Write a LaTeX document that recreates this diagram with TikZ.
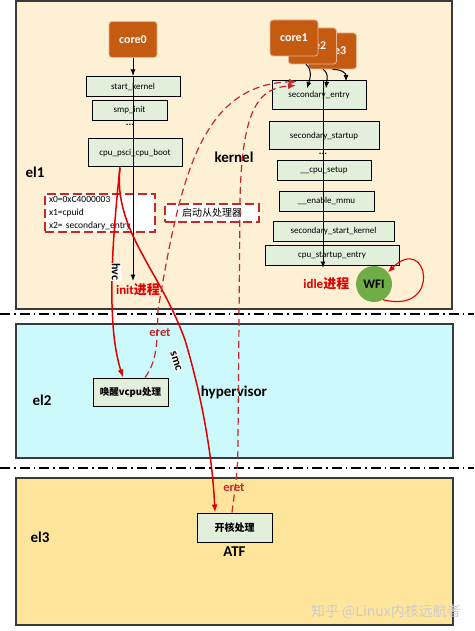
\documentclass[tikz,border=0pt]{standalone}
\usepackage{fontspec}
\setmainfont{Carlito}
\newfontfamily\cjk{Noto Sans CJK SC}
\usepackage{tikz}
\usetikzlibrary{positioning}
\usetikzlibrary{arrows.meta}
\definecolor{elone}{HTML}{FDF0D4}
\definecolor{eltwo}{HTML}{CCFAFC}
\definecolor{elthree}{HTML}{FFE59C}
\definecolor{funcfill}{HTML}{E2EFDA}
\definecolor{coreorange}{HTML}{C55A11}
\definecolor{wfigreen}{HTML}{70AD47}
\definecolor{callred}{HTML}{E00000}
\definecolor{eretred}{HTML}{C62828}
\definecolor{frame}{HTML}{3A3A3A}
\tikzset{every picture/.style={x=1pt,y=-1pt},
  level/.style={draw=frame,line width=1.4pt},
  eldiv/.style={line width=1.2pt,dash pattern=on 10pt off 4pt on 1.5pt off 4pt},
  func/.style={draw,line width=1pt,fill=funcfill,minimum height=20pt,inner sep=0pt,font=\fontsize{9}{11}\selectfont},
  core/.style={fill=coreorange,draw=white!55!coreorange,line width=0.8pt,rounded corners=3pt,minimum width=48pt,minimum height=36pt,text=white,font=\bfseries\fontsize{12}{14}\selectfont},
  tag/.style={font=\bfseries\fontsize{15}{17}\selectfont},
  redtag/.style={text=callred,font=\bfseries\fontsize{13}{15}\selectfont},
  regbox/.style={draw=eretred,line width=1.3pt,dash pattern=on 9pt off 4pt,fill=white,inner sep=0pt},
  flow/.style={line width=1pt,-{Latex[length=6.5pt,width=5pt]}},
  call/.style={callred,line width=1.5pt,-{Latex[length=8pt,width=6pt]}},
  ret/.style={eretred,line width=1.2pt,dash pattern=on 7pt off 4pt,-{Latex[length=8pt,width=6pt]}}}

\begin{document}
\begin{tikzpicture}
\useasboundingbox (0,0) rectangle (474,631);
% exception levels
\draw[level,fill=elone] (16,1) rectangle (452,309);
\draw[level,fill=eltwo] (16,324) rectangle (453,458);
\draw[level,fill=elthree] (16,478) rectangle (453,625);
\draw[eldiv] (0,314) -- (474,314);
\draw[eldiv] (0,468) -- (474,468);

\node[tag] (elI) at (35,172) {el1};
\node[tag] (elII) at (42,400) {el2};
\node[tag] (elIII) at (40,537) {el3};
\node[tag] (kern) at (234,157) {kernel};
\node[tag] (hyp) at (234,392) {hypervisor};

% dashed notes
\node[regbox,text width=102pt,minimum height=38pt,inner xsep=4pt,align=left,font=\fontsize{9.5}{13}\selectfont] (regs) at (100,213) {x0=0xC4000003\\x1=cpuid\\x2= secondary\_entry};
\node[regbox,minimum width=94pt,minimum height=18pt,font=\cjk\fontsize{10}{12}\selectfont] (bootsec) at (212,213) {启动从处理器};

% boot cpu
\node[core] (core0) at (133,39.5) {core0};
\node[func,minimum width=94pt] (startk) at (133,86.5) {start\_kernel};
\node[func,minimum width=75pt] (smpinit) at (129.5,110.5) {smp\_init};
\node (dotsl) at (130,125) {\textbf{...}};
\node[func,minimum width=94pt,minimum height=28pt] (psciboot) at (135,153) {cpu\_psci\_cpu\_boot};

% secondary cpus
\node[core] (core3) at (332.5,51) {core3};
\node[core] (core2) at (312.5,46) {core2};
\node[core] (core1) at (294,38) {core1};
\node[func,minimum width=94pt,minimum height=29pt] (secentry) at (319,95.5) {secondary\_entry};
\node[func,minimum width=110pt,minimum height=28pt] (secstartup) at (324,136) {secondary\_startup};
\node (dotsr) at (323,154) {\textbf{...}};
\node[func,minimum width=94pt] (cpusetup) at (324,170.5) {\_\_cpu\_setup};
\node[func,minimum width=95pt] (mmu) at (326.5,201) {\_\_enable\_mmu};
\node[func,minimum width=121pt] (seckernel) at (333.5,231) {secondary\_start\_kernel};
\node[func,minimum width=134pt] (startentry) at (332,255) {cpu\_startup\_entry};

\node[circle,fill=wfigreen,minimum size=36pt,inner sep=0pt,font=\bfseries\fontsize{13}{15}\selectfont] (wfi) at (374,284) {WFI};
\node[redtag,left=3pt of wfi] (idle) {idle{\cjk 进程}};
\node[redtag] (init) at (138,290) {init{\cjk 进程}};

% el2 / el3 handlers
\node[func,minimum width=75pt,minimum height=28pt,font=\cjk\bfseries\fontsize{9.5}{11}\selectfont] (vcpu) at (130.5,392) {唤醒vcpu处理};
\node[func,minimum width=75pt,minimum height=29pt,font=\cjk\bfseries\fontsize{10}{12}\selectfont] (atfbox) at (234.5,527.5) {开核处理};
\node[tag,below=1pt of atfbox] (atf) {ATF};

% black flow
\coordinate (initend) at (133,281);
\coordinate (idleend) at (323,268);
\draw[flow] (core0) -- (startk.north);
\draw[flow] (startk.north) -- (initend);
\draw[flow] (secentry.north -| idleend) -- (idleend);
\draw[flow] ([xshift=-6.5pt]core2.south) .. controls +(7,6) and +(3,-10) .. ([xshift=-12pt,yshift=-8pt]secentry.north);
\draw[flow] ([xshift=-9.5pt]core3.south) .. controls +(6,4) and +(1,-10) .. ([xshift=7pt,yshift=-8pt]secentry.north);
\draw[flow] (core3.south) .. controls +(10,0) and +(0,-8) .. ([xshift=27pt,yshift=-1pt]secentry.north);
\draw[callred,line width=1.1pt,-{Latex[length=7pt,width=5.5pt]}] (wfi.-60) .. controls +(60,15) and +(40,-40) .. (wfi.40);

% hvc / smc and the way back
\coordinate (smcbend) at (185,340);
\draw[call] ([xshift=-15pt]psciboot.south) .. controls (110,260) and (108,330) .. ([xshift=-7.5pt]vcpu.north);
\draw[call] ([xshift=-15pt]psciboot.south) .. controls (113,230) and (160,270) .. (smcbend) .. controls (200,390) and (212,450) .. ([xshift=-19.5pt]atfbox.north);
\draw[ret] ([xshift=14.5pt]vcpu.north) .. controls (158,360) and (157,340) .. (158,310) .. controls (180,180) and (200,85) .. ([xshift=-22pt,yshift=-1pt]secentry.north);
\draw[ret] ([xshift=-2.5pt]atfbox.north) .. controls (236,480) and (238,470) .. (238,440) -- (240,200) .. controls (242,110) and (258,88) .. ([xshift=-23pt,yshift=-5pt]secentry.north);

\node[fill=white,inner sep=1pt,rotate=-90,font=\bfseries\fontsize{12}{13}\selectfont] (hvc) at (116,272) {hvc};
\node[fill=white,inner sep=1pt,rotate=-72,font=\bfseries\fontsize{12}{13}\selectfont] (smc) at (176,361) {smc};
\node[text=eretred,font=\bfseries\fontsize{12.5}{14}\selectfont] (eretII) at (160,333) {eret};
\node[text=eretred,font=\bfseries\fontsize{12.5}{14}\selectfont] (eretIII) at (234,488) {eret};

\node[text=gray!40,font=\cjk\fontsize{14}{16}\selectfont] (mark) at (386,612) {知乎 @Linux内核远航者};
\end{tikzpicture}
\end{document}
